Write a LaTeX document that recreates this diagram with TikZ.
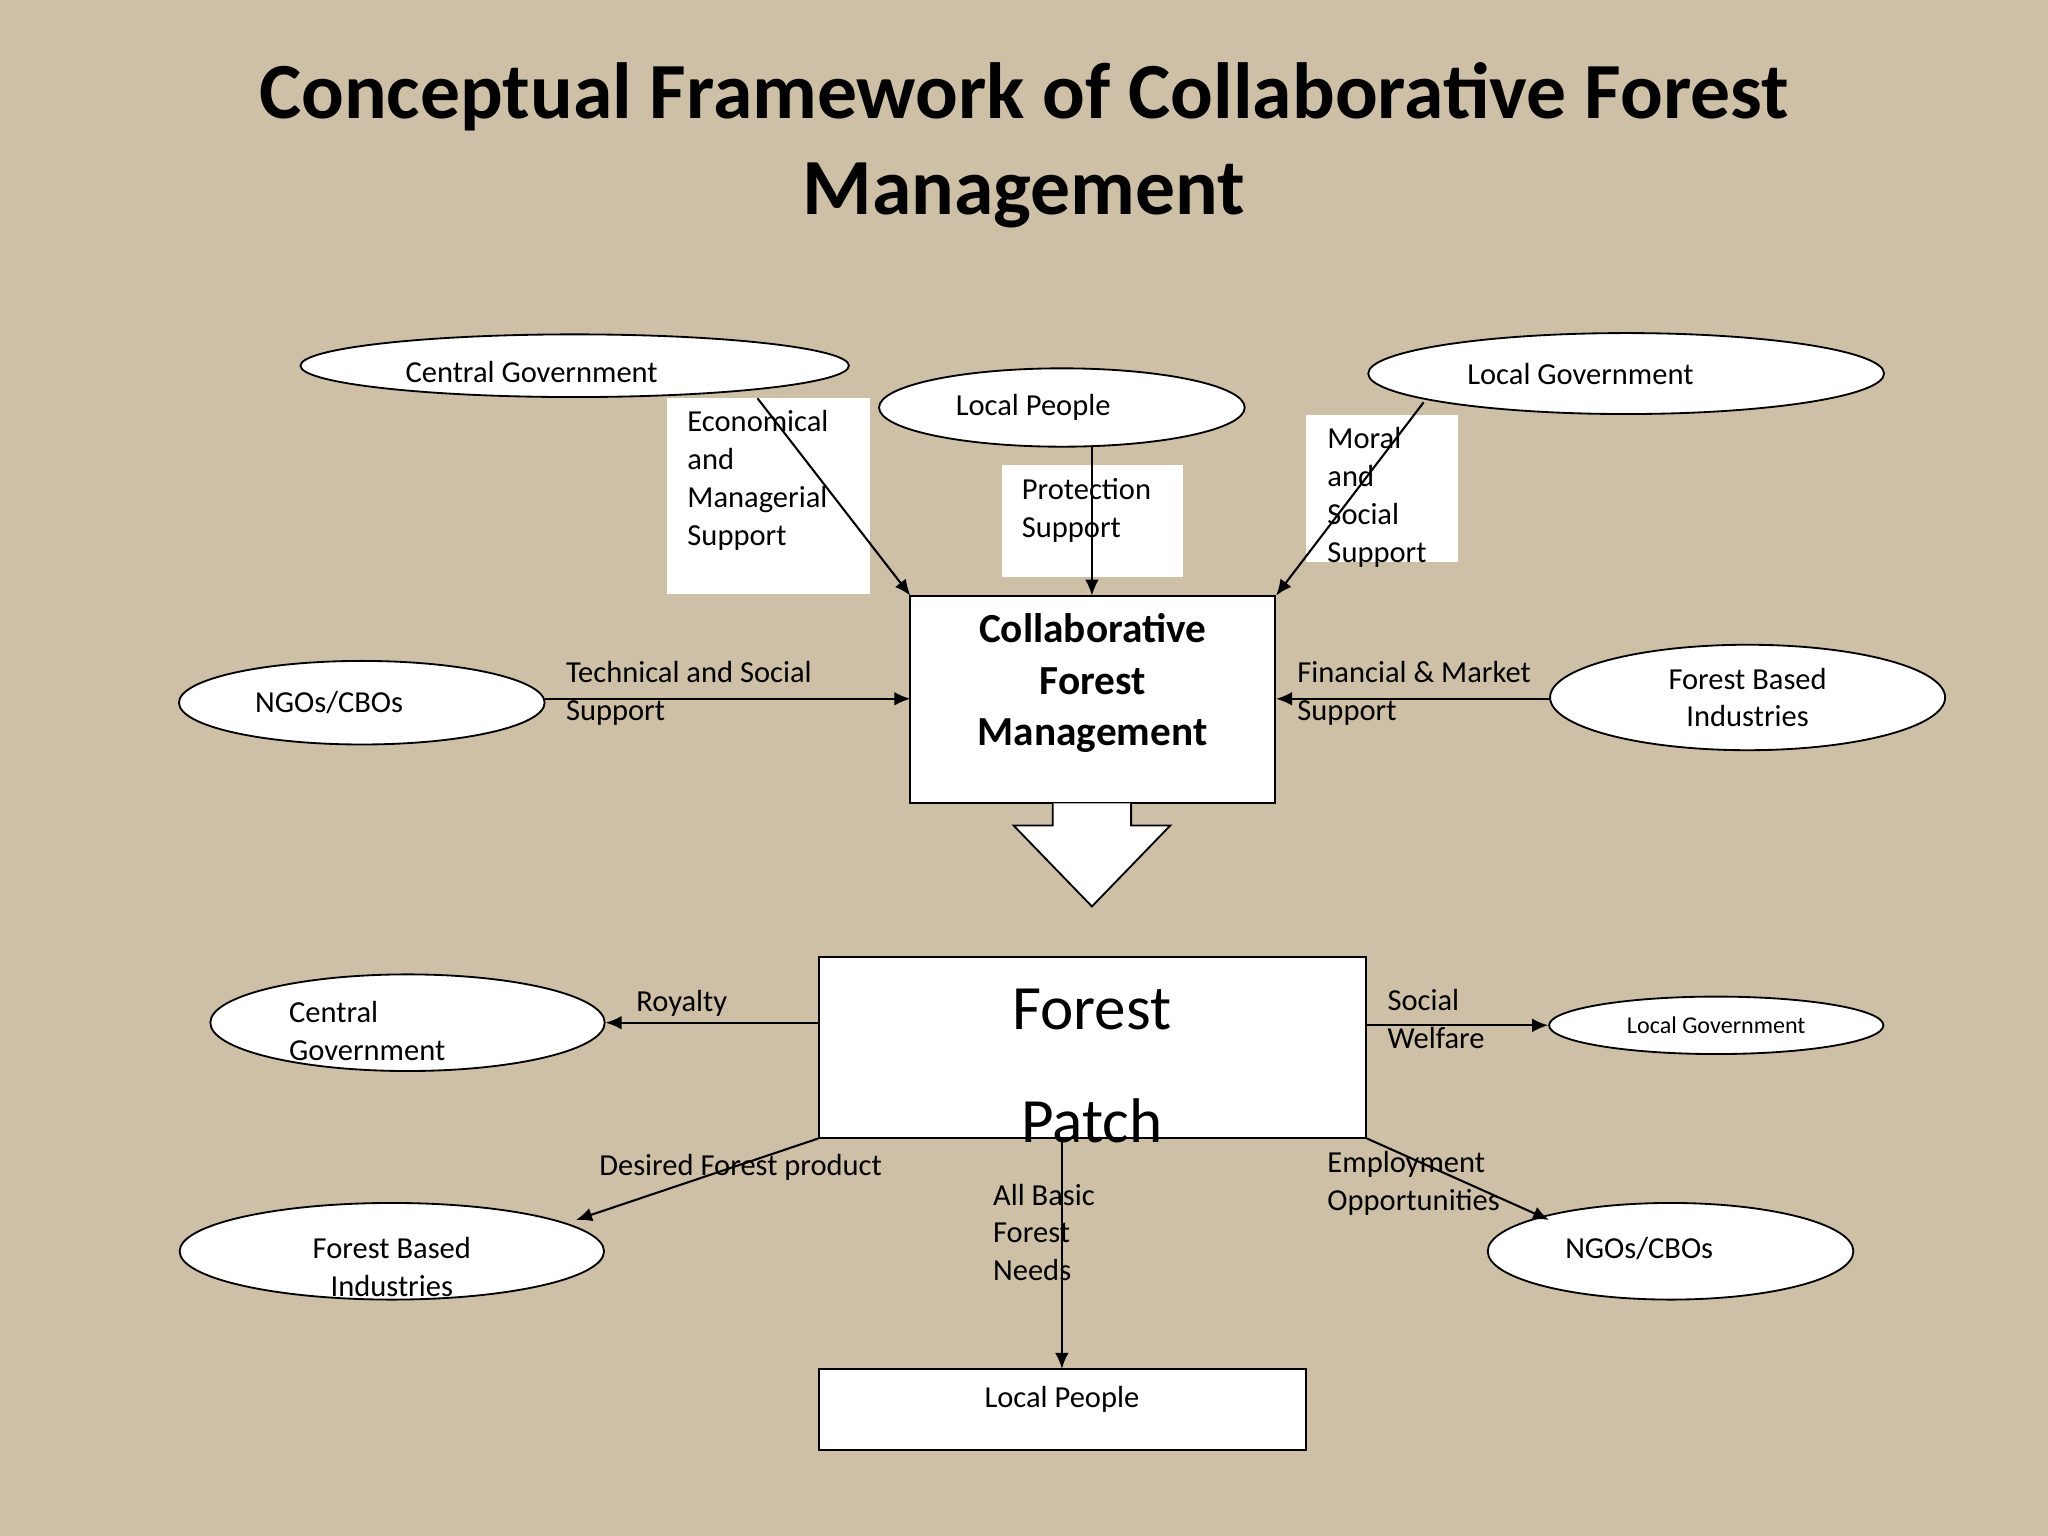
\documentclass[tikz,border=0pt]{standalone}
\usepackage{fontspec}
\setmainfont{Carlito}
\usetikzlibrary{shapes.geometric,arrows.meta}
\begin{document}
\begin{tikzpicture}[x=0.02cm,y=-0.02cm,
  every node/.style={font=\fontsize{13.3}{16.5}\selectfont},
  ell/.style={draw,ellipse,line width=0.8pt,fill=white},
  arr/.style={-{Latex[length=7pt,width=6pt]},line width=0.9pt},
  lbl/.style={align=left,anchor=north west,inner sep=0pt}]
\fill[fill={rgb,255:red,206;green,192;blue,166}] (0,0) rectangle (1568,1176);
\node[font=\fontsize{34.7}{42}\selectfont\bfseries,align=center] (title) at (784,111) {Conceptual Framework of Collaborative Forest\\Management};
% top ellipses
\node[ell,minimum width=8.4cm,minimum height=0.96cm] (cg) at (440,280) {};
\node at (407,285) {Central Government};
\node[ell,minimum width=5.6cm,minimum height=1.2cm] (lp) at (813,312) {};
\node at (791,312) {Local People};
\node[ell,minimum width=7.9cm,minimum height=1.24cm] (lg) at (1245,286) {};
\node at (1210,286) {Local Government};
\node[ell,minimum width=5.6cm,minimum height=1.28cm] (ngo) at (277,538) {};
\node at (252,538) {NGOs/CBOs};
\node[ell,minimum width=6.05cm,minimum height=1.6cm,align=center] (fbi) at (1338,534) {Forest Based\\Industries};
% white label boxes
\fill[white] (511,305) rectangle (666,455);
\fill[white] (767,356) rectangle (906,442);
\fill[white] (1000,318) rectangle (1116,430);
\node[lbl] at (526,314) {Economical\\and\\Managerial\\Support};
\node[lbl] at (782,366) {Protection\\Support};
\node[lbl] at (1016,327) {Moral\\and\\Social\\Support};
% CFM box
\node[draw,fill=white,line width=0.8pt,minimum width=5.58cm,minimum height=3.18cm] (cfm) at (836.5,535.5) {};
\node[align=center,font=\fontsize{18}{22.5}\selectfont\bfseries] at (836.5,523) {Collaborative\\Forest\\Management};
\draw[fill=white,line width=0.8pt] (806,615) -- (806,632) -- (776,632) -- (836,694) -- (896,632) -- (866,632) -- (866,615);
\coordinate (a1) at (580,305);
\draw[arr] (a1) -- (697,456);
\coordinate (a3) at (836,342);
\draw[arr] (a3) -- (836,456);
\coordinate (a2) at (1090,308);
\draw[arr] (a2) -- (977,456);
\coordinate (a4) at (417,535);
\draw[arr] (a4) -- (697,535);
\coordinate (a5) at (1187,535);
\draw[arr] (a5) -- (977,535);
\node[lbl] at (433,506) {Technical and Social\\Support};
\node[lbl] at (993,506) {Financial \& Market\\Support};
% Forest patch
\node[draw,fill=white,line width=0.8pt,minimum width=8.38cm,minimum height=2.76cm] (fp) at (836.5,802) {};
\node[font=\fontsize{27.5}{30}\selectfont] at (836,773) {Forest};
\node[font=\fontsize{27.5}{30}\selectfont] at (836,858) {Patch};
\node[ell,minimum width=6.04cm,minimum height=1.48cm] (cg2) at (312,783) {};
\node[lbl] at (221,766) {Central\\Government};
\node[ell,minimum width=5.12cm,minimum height=0.88cm,font=\fontsize{10.5}{12}\selectfont] (lg2) at (1314,785) {Local Government};
\node[ell,minimum width=6.5cm,minimum height=1.48cm] (fbi2) at (300,958) {};
\node[align=center] at (300,970) {Forest Based\\Industries};
\node[ell,minimum width=5.6cm,minimum height=1.48cm] (ngo2) at (1279,958) {};
\node at (1255,956) {NGOs/CBOs};
\node[draw,fill=white,line width=0.8pt,minimum width=7.46cm,minimum height=1.24cm] (lp2) at (813.5,1079) {};
\node at (813,1071) {Local People};
\draw[arr] (fp.west|-cg2.east) -- (cg2.east);
\draw[arr] (fp.east|-lg2.west) -- (lg2.west);
\draw[arr] (fp.south west) -- (441,934);
\coordinate (a6) at (813,871);
\draw[arr] (a6) -- (813,1048);
\draw[arr] (fp.south east) -- (1186,934);
\node at (522,768) {Royalty};
\node[lbl] at (1062,757) {Social\\Welfare};
\node at (567,894) {Desired Forest product};
\node[lbl] at (760,906) {All Basic\\Forest\\Needs};
\node[lbl] at (1016,881) {Employment\\Opportunities};
\end{tikzpicture}
\end{document}
